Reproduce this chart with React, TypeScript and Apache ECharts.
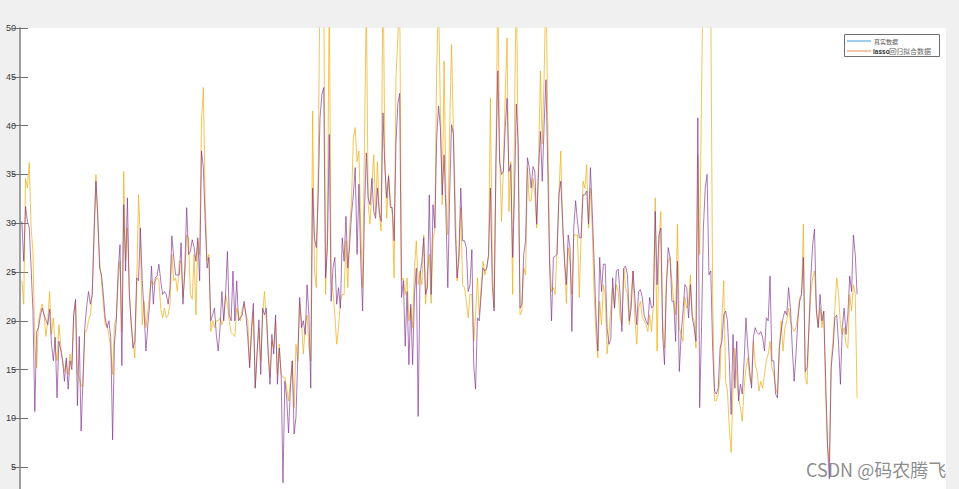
import React, { useEffect, useRef } from "react";
import * as echarts from "echarts";

// Purple series
const purpleValues: number[] = [
  30.2, 26.1, 31.7, 30.2, 29.5, 25.4, 21.0, 10.7, 18.9, 19.3, 20.5, 21.3, 20.6, 20.1, 19.6, 21.2, 17.6, 15.9, 18.3, 12.1,
  17.9, 17.0, 15.9, 13.8, 16.2, 13.0, 15.9, 15.0, 20.6, 22.2, 11.3, 18.4, 8.7, 14.0, 19.3, 21.5, 23.0, 21.7, 22.7, 28.8,
  34.3, 30.9, 25.4, 24.7, 22.7, 20.3, 19.3, 20.0, 18.3, 7.8, 17.6, 20.0, 25.1, 27.8, 15.4, 31.9, 25.1, 32.6, 22.7, 20.0,
  17.2, 17.9, 24.4, 24.1, 29.5, 24.1, 21.0, 16.9, 19.5, 21.7, 25.6, 21.7, 24.4, 24.6, 25.8, 24.1, 22.7,
  23.0, 22.7, 21.7, 23.4, 28.7, 26.5, 24.7, 24.7, 24.7, 28.0, 21.7, 25.4, 31.6, 26.8, 27.1, 28.3, 27.5, 26.1, 28.5, 24.1,
  37.4, 35.7, 30.2, 25.4, 26.5, 20.0, 20.6, 21.3, 18.6, 16.9, 19.3, 23.0, 20.0, 22.7, 27.1, 20.6, 20.0, 25.1, 20.0, 24.1,
  20.0, 20.3, 20.6, 22.0, 20.6, 18.3, 15.2, 19.3, 21.8, 13.1, 16.6, 20.1, 14.5, 21.3, 20.6, 21.3, 16.6, 13.5, 18.6, 16.6,
  20.6, 13.5, 17.2, 14.5, 3.4, 13.8, 12.1, 8.5, 13.1, 15.9, 8.4, 10.1, 16.2, 22.4, 19.3,
  20.0, 18.6, 23.7, 20.6, 13.1, 33.6, 28.5, 27.5, 32.9, 40.8, 43.2, 43.9, 24.4, 27.5, 39.1, 22.0, 25.4, 26.5, 21.7, 23.4,
  21.3, 28.5, 26.1, 30.7, 25.4, 27.8, 30.9, 32.9, 35.7, 26.8, 34.0, 26.1, 21.0, 31.2, 37.2, 32.6, 31.9, 34.6, 31.2, 30.5,
  33.6, 31.2, 30.2, 41.3, 35.7, 32.6, 34.8, 31.6, 31.6, 28.2, 38.1, 42.2, 43.3, 22.4, 24.1, 17.4, 23.0, 15.5, 21.7, 15.5,
  22.7, 25.4, 10.2, 24.7, 26.1, 28.5, 22.7, 23.4, 32.9, 22.7, 31.9, 29.5, 38.7, 42.0, 39.8, 32.9,
  37.0, 30.9, 23.4, 32.9, 40.1, 39.1, 29.5, 24.4, 26.8, 33.6, 28.2, 28.2, 27.5, 23.0, 23.7, 27.3, 15.5, 13.0, 20.3, 20.0,
  22.7, 25.4, 25.1, 25.4, 26.8, 33.6, 23.7, 21.0, 36.3, 45.6, 36.3, 35.0, 35.3, 39.8, 42.8, 35.3, 36.0, 26.5, 32.9, 42.2,
  38.1, 21.3, 21.7, 26.8, 28.2, 36.7, 35.7, 33.6, 35.8, 35.3, 29.9, 35.3, 39.4, 34.3, 40.1, 44.7, 35.3, 25.4, 20.0, 26.5,
  26.6, 26.8, 32.9, 34.3, 30.2, 26.1, 23.7, 28.8, 27.5, 18.9, 29.5, 32.3, 30.2, 28.5, 28.5, 32.9,
  32.9, 33.3, 29.9, 35.7, 31.2, 26.1, 20.6, 16.9, 26.5, 23.0, 25.8, 25.8, 19.3, 17.6, 18.1, 24.4, 21.3, 25.1, 25.3, 22.7,
  18.9, 25.4, 25.6, 24.7, 20.0, 21.3, 25.1, 22.4, 19.6, 23.0, 23.2, 22.4, 20.6, 20.0, 19.6, 22.4, 21.3, 21.5, 31.2, 23.7,
  28.8, 29.5, 18.6, 15.5, 23.4, 27.5, 26.5, 22.0, 22.0, 17.9, 26.1, 14.8, 18.6, 21.0, 23.7, 23.4, 20.3, 23.7, 20.3, 19.3,
  17.9, 40.8, 11.1, 19.3, 29.5, 33.6, 35.0, 24.7, 25.1, 17.2, 12.8, 12.5, 13.1, 17.2, 17.9, 20.6,
  21.0, 20.0, 15.9, 10.4, 18.6, 13.1, 17.9, 11.8, 13.5, 12.5, 15.9, 20.3, 17.2, 14.8, 13.1, 18.3, 19.3, 18.8, 18.6, 18.9,
  18.3, 16.9, 20.3, 20.0, 24.6, 15.9, 15.9, 12.5, 12.1, 17.2, 18.9, 20.3, 21.0, 20.6, 23.4, 21.3, 17.2, 13.8, 16.6, 20.0,
  22.0, 22.7, 26.5, 14.8, 15.2, 19.3, 24.4, 27.8, 29.4, 21.0, 19.3, 22.7, 20.0, 21.0, 14.2, 7.3, 3.8, 15.2, 17.2, 20.3,
  20.6, 17.6, 13.5, 19.3, 21.3, 18.6, 20.6, 24.6, 23.0, 28.8, 26.8, 22.7,
];

// Yellow series (those above 50 are clipped in the original)
const yellowValues: number[] = [
  24.1, 21.7, 34.6, 33.6, 36.2, 29.5, 27.1, 17.2, 15.2, 20.0, 21.0, 21.7, 20.6, 18.4, 20.0, 23.0, 18.6, 20.3, 17.2, 15.9,
  19.6, 17.5, 15.9, 14.8, 15.9, 14.5, 16.6, 15.5, 20.6, 22.0, 14.5, 14.2, 13.3, 13.3, 18.9, 19.0, 20.0, 20.6, 22.7, 29.5,
  35.0, 29.9, 26.1, 24.1, 21.7, 19.6, 19.6, 18.5, 17.2, 14.5, 19.6, 20.3, 24.1, 26.1, 18.9, 35.3, 26.1, 29.5, 23.4, 19.6,
  17.9, 16.2, 23.4, 32.9, 28.2, 19.6, 22.0, 19.3, 21.0, 22.7, 24.1, 23.7, 24.1, 24.4, 24.1, 21.3, 20.3,
  21.3, 20.3, 20.6, 21.7, 26.8, 24.1, 24.4, 23.0, 26.1, 26.1, 22.4, 24.7, 28.8, 28.5, 22.7, 22.2, 26.8, 20.6, 28.2, 26.8,
  40.4, 43.9, 32.3, 26.1, 26.8, 18.9, 20.0, 19.3, 20.0, 20.0, 20.3, 19.6, 20.3, 22.7, 21.7, 20.0, 18.8, 18.6, 18.4, 21.3,
  20.6, 20.0, 21.3, 21.7, 20.6, 20.0, 15.2, 18.6, 21.0, 13.1, 16.6, 19.3, 15.9, 20.6, 23.0, 20.0, 17.2, 14.2, 17.9, 17.2,
  20.0, 14.5, 17.6, 14.5, 14.2, 14.2, 13.1, 11.8, 13.8, 15.9, 11.1, 17.6, 15.9, 22.0, 20.0,
  16.6, 19.3, 20.6, 17.2, 15.9, 41.5, 25.1, 23.4, 34.6, 56.0, 60.0, 55.0, 22.7, 29.5, 54.0, 24.1, 23.0, 20.6, 17.6, 19.3,
  22.0, 22.7, 22.7, 28.2, 23.4, 29.5, 32.3, 38.7, 39.8, 36.3, 37.4, 29.5, 23.4, 38.1, 53.0, 31.9, 29.9, 33.6, 37.0, 30.9,
  36.3, 30.9, 29.2, 57.0, 37.0, 30.5, 35.0, 32.3, 30.9, 24.4, 44.9, 49.0, 54.0, 24.1, 24.4, 22.7, 24.4, 20.0, 21.3, 19.3,
  25.4, 28.2, 23.7, 25.1, 23.7, 28.8, 21.7, 24.7, 26.8, 21.8, 28.2, 29.5, 45.9, 53.0, 41.5, 31.9,
  46.6, 32.9, 28.8, 39.8, 48.3, 39.8, 32.3, 24.1, 26.1, 31.6, 23.7, 23.4, 22.0, 20.3, 22.7, 22.7, 17.9, 20.6, 24.4, 20.6,
  23.4, 26.1, 24.7, 25.4, 26.5, 42.8, 26.1, 21.3, 36.3, 55.0, 37.0, 30.2, 35.7, 43.2, 49.0, 31.2, 36.3, 22.7, 39.8, 56.0,
  36.3, 20.6, 21.0, 25.4, 24.7, 35.7, 32.3, 32.3, 34.6, 32.9, 29.5, 36.3, 45.6, 38.1, 44.9, 55.0, 39.8, 26.1, 23.0, 23.4,
  22.7, 27.8, 32.9, 37.4, 29.5, 26.5, 21.8, 27.5, 26.1, 22.7, 28.8, 28.8, 28.8, 22.4, 28.8, 34.3,
  33.6, 36.0, 29.5, 33.6, 29.5, 22.7, 18.6, 16.2, 22.0, 19.6, 23.7, 22.7, 16.6, 18.6, 21.3, 23.4, 21.3, 23.7, 23.0, 20.3,
  19.6, 25.4, 23.4, 22.7, 19.6, 22.7, 25.1, 20.3, 17.6, 21.3, 22.0, 20.3, 20.0, 19.6, 18.9, 20.6, 18.9, 21.7, 32.6, 16.9,
  27.5, 31.2, 20.0, 17.2, 24.1, 26.1, 26.5, 24.1, 22.0, 20.6, 29.9, 19.3, 18.6, 17.9, 22.4, 21.3, 21.7, 24.7, 20.6, 20.0,
  17.2, 37.0, 26.8, 43.2, 58.0, 64.0, 57.0, 60.0, 52.0, 22.7, 11.8, 11.8, 12.5, 14.2, 20.3, 24.1,
  13.8, 12.8, 9.0, 6.5, 13.1, 17.2, 14.2, 12.1, 11.1, 9.7, 13.1, 15.2, 16.2, 14.2, 13.5, 17.9, 15.5, 14.8, 12.8, 13.8,
  13.1, 14.5, 15.9, 16.6, 17.9, 15.2, 14.5, 13.1, 12.5, 17.2, 20.0, 16.9, 19.3, 20.0, 21.3, 20.0, 19.3, 18.9, 19.3, 20.6,
  22.4, 22.7, 29.9, 14.2, 13.5, 19.3, 22.7, 24.4, 25.1, 21.3, 19.3, 21.3, 19.3, 21.0, 12.5, 7.3, 5.6, 15.9, 17.9, 21.3,
  24.4, 22.7, 19.6, 18.6, 19.3, 17.6, 17.2, 22.7, 21.0, 23.7, 22.7, 12.1,
];

const legendNames = ["真实数据", "lasso回归拟合数据"];
const xMin = 0;
const xMax = 500;
const xStep = 50;
const yMin = 0;
const yMax = 50;
const yStep = 5;

export default function App() {
  const ref = useRef<HTMLDivElement>(null);

  useEffect(() => {
    if (!ref.current) return;
    const chart = echarts.init(ref.current, undefined, { renderer: "svg" });

    const toPairs = (arr: number[]) => arr.map((v, i) => [i + 1, v]);

    const axisLine = { show: true, lineStyle: { color: "#9a9a9a", width: 1.5 } };
    const axisTick = { show: true, inside: true, length: 8, lineStyle: { color: "#707070", width: 1 } };
    const labelStyle = { color: "#3a3a3a", fontSize: 9, fontFamily: "Liberation Sans, Arial, sans-serif" };

    chart.setOption({
      animation: false,
      backgroundColor: "#f0f0f0",
      grid: { left: 20, top: 28, right: 13, bottom: 44, show: true, backgroundColor: "#ffffff", borderWidth: 0 },
      xAxis: [
        {
          type: "value", min: xMin, max: xMax, interval: xStep, position: "bottom",
          axisLine, axisTick, splitLine: { show: false },
          // the bottom tick labels lie below the visible part of the figure
          axisLabel: { show: false },
        },
        {
          type: "value", min: xMin, max: xMax, interval: xStep, position: "top",
          axisLine, axisTick, splitLine: { show: false }, axisLabel: { show: false },
        },
      ],
      yAxis: [
        {
          type: "value", min: yMin, max: yMax, interval: yStep, position: "left",
          axisLine, axisTick, splitLine: { show: false },
          axisLabel: { ...labelStyle, margin: 4, showMinLabel: false },
        },
        {
          type: "value", min: yMin, max: yMax, interval: yStep, position: "right",
          axisLine, axisTick, splitLine: { show: false }, axisLabel: { show: false },
        },
      ],
      series: [
        {
          name: legendNames[1],
          type: "line",
          xAxisIndex: 0,
          yAxisIndex: 0,
          data: toPairs(yellowValues),
          showSymbol: false,
          symbol: "none",
          clip: true,
          lineStyle: { color: "#EDB120", width: 1, opacity: 0.75 },
          silent: true,
        },
        {
          name: legendNames[0],
          type: "line",
          xAxisIndex: 0,
          yAxisIndex: 0,
          data: toPairs(purpleValues),
          showSymbol: false,
          symbol: "none",
          clip: true,
          lineStyle: { color: "#7E2F8E", width: 1, opacity: 0.65 },
          silent: true,
        },
      ],
      graphic: [
        {
          type: "rect", z: 100,
          shape: { x: 844.5, y: 34.5, width: 95, height: 22 },
          style: { fill: "#ffffff", stroke: "#6e6e6e", lineWidth: 1 },
        },
        {
          type: "line", z: 101,
          shape: { x1: 847, y1: 41, x2: 871, y2: 41 },
          style: { stroke: "#3f9bdb", lineWidth: 1 },
        },
        {
          type: "line", z: 101,
          shape: { x1: 847, y1: 51, x2: 871, y2: 51 },
          style: { stroke: "#ec8a5c", lineWidth: 1 },
        },
        {
          type: "text", z: 101, x: 874, y: 41,
          style: { text: legendNames[0], fontSize: 6, fill: "#555555", fontFamily: "Noto Sans CJK SC", verticalAlign: "middle" },
        },
        {
          type: "text", z: 101, x: 873, y: 51,
          style: { text: "lasso", fontSize: 6.5, fontWeight: "bold", fill: "#333333", fontFamily: "Liberation Sans, Arial", verticalAlign: "middle" },
        },
        {
          type: "text", z: 101, x: 889, y: 51,
          style: { text: "回归拟合数据", fontSize: 7, fill: "#666666", fontFamily: "Noto Sans CJK SC", verticalAlign: "middle" },
        },
        {
          type: "text", z: 102, x: 806, y: 469,
          style: { text: "CSDN @码农腾飞", fontSize: 18, fill: "rgba(110,110,110,0.8)", fontFamily: "Noto Sans CJK SC", verticalAlign: "middle" },
        },
      ],
    });

    return () => chart.dispose();
  }, []);

  return (
    <div
      ref={ref}
      style={{ position: "fixed", left: 0, top: 0, width: 959, height: 560, background: "#f0f0f0" }}
    />
  );
}
